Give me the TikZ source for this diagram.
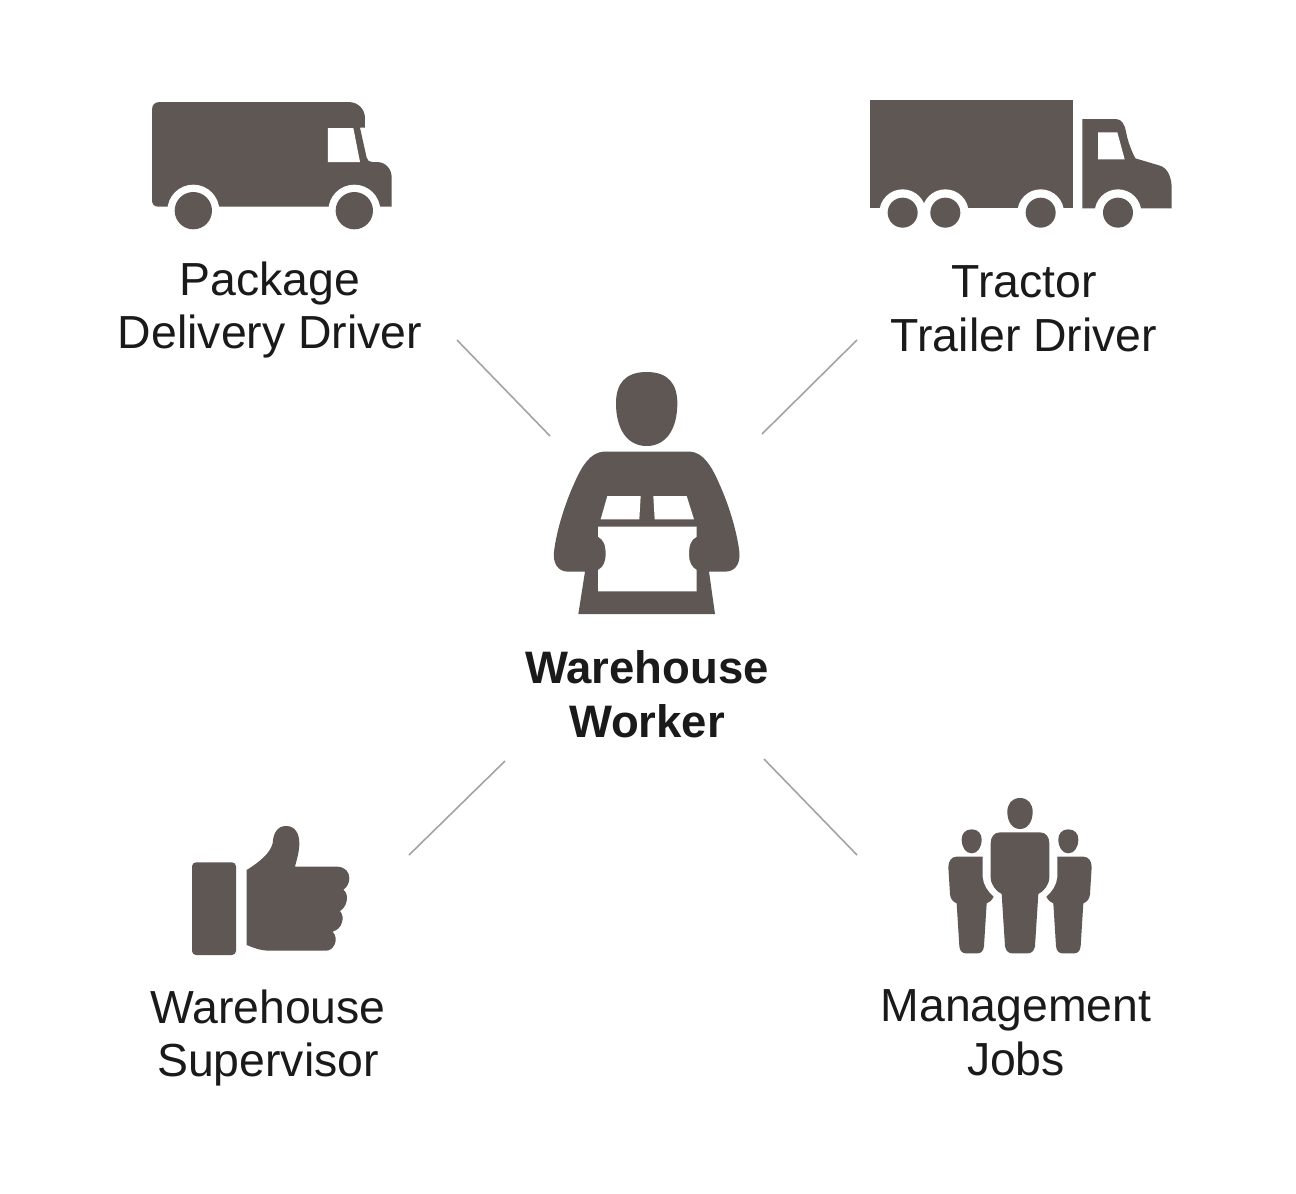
\documentclass[tikz,border=0pt]{standalone}
\usepackage{fontspec}
\setmainfont{Liberation Sans}
\definecolor{icon}{HTML}{5F5753}
\definecolor{ink}{HTML}{1A1A1A}
\definecolor{rule}{HTML}{A3A3A3}
\tikzset{
  px/.style={x=0.02cm,y=-0.02cm},
  glyph/.style={fill=icon,draw=none},
  hole/.style={fill=white,draw=none},
  label/.style={text=ink,align=center,inner sep=0pt,font=\fontsize{26.4}{30.6}\selectfont},
  strong/.style={label,font=\fontsize{25.9}{30.6}\selectfont\bfseries},
  spoke/.style={draw=rule,line width=0.9pt},
}
\begin{document}
\begin{tikzpicture}[px]
\useasboundingbox (0,0) rectangle (1296,1194);
\fill[white] (0,0) rectangle (1296,1194);

% Delivery van
\begin{scope}[shift={(140,90)},scale=1/3]
\path[glyph] (36,60) .. controls (36,44) and (44,36) .. (60,36) -- (625,36)
  .. controls (655,36) and (675,58) .. (675,85) -- (675,113) -- (660,113)
  -- (680,203) .. controls (682,212) and (688,216) .. (697,216) -- (710,216)
  .. controls (738,216) and (755,238) .. (755,262) -- (755,350) -- (55,350)
  .. controls (42,350) and (36,342) .. (36,330) -- cycle;
\path[hole] (564,114) -- (640,114) -- (660,216) -- (564,216) -- cycle;
\foreach \cx in {160,643} {
  \path[hole] (\cx-78,352) rectangle (\cx+78,420);
  \path[hole] (\cx,362) circle (78);
  \path[glyph] (\cx,362) circle (56);
}
\end{scope}

% Tractor trailer
\begin{scope}[shift={(860,90)},scale=1/3]
\path[glyph] (30,30) rectangle (638,355);
\path[glyph] (667,87) -- (768,87) .. controls (785,87) and (795,105) .. (798,125)
  .. controls (802,150) and (815,185) .. (826,205) -- (900,227)
  .. controls (925,235) and (935,265) .. (935,295) -- (935,355) -- (667,355) -- cycle;
\path[hole] (714,127) -- (772,127) -- (794,208) -- (714,208) -- cycle;
\foreach \cx in {128,256,542,774} {
  \path[hole] (\cx-70,356) rectangle (\cx+70,420);
  \path[hole] (\cx,368) circle (70);
}
\foreach \cx in {128,256,542,774} {
  \path[glyph] (\cx,368) circle (45);
}
\end{scope}

% Warehouse worker
\begin{scope}[shift={(540,360)},scale=1/3]
\path[glyph] (320,36) .. controls (385,36) and (412,72) .. (412,130)
  .. controls (412,205) and (380,258) .. (320,258)
  .. controls (260,258) and (228,205) .. (228,130)
  .. controls (228,72) and (255,36) .. (320,36) -- cycle;
\path[glyph] (190,275) -- (452,275) .. controls (490,278) and (515,320) .. (535,365)
  .. controls (565,430) and (590,510) .. (598,575)
  .. controls (602,612) and (585,635) .. (555,635) -- (507,635) -- (525,762) -- (115,762)
  -- (135,635) -- (85,635) .. controls (55,635) and (38,612) .. (42,575)
  .. controls (50,510) and (75,430) .. (105,365)
  .. controls (125,320) and (150,278) .. (190,275) -- cycle;
\path[hole] (202,408) -- (302,408) -- (298,478) -- (182,478) -- cycle;
\path[hole] (340,408) -- (440,408) -- (462,478) -- (344,478) -- cycle;
\path[hole] (174,500) -- (470,500) -- (470,530)
  .. controls (452,540) and (447,555) .. (447,585)
  .. controls (447,605) and (455,622) .. (470,630) -- (470,694) -- (174,694) -- (174,630)
  .. controls (190,622) and (197,605) .. (197,585)
  .. controls (197,555) and (192,540) .. (174,530) -- cycle;
\end{scope}

% Thumbs up
\begin{scope}[shift={(180,815)},scale=1/3]
\path[glyph,rounded corners=0.08cm] (36,142) rectangle (168,420);
\path[glyph] (200,165) .. controls (240,140) and (270,115) .. (278,85)
  .. controls (280,50) and (295,33) .. (318,33)
  .. controls (345,33) and (358,55) .. (358,85)
  .. controls (358,110) and (350,135) .. (345,155) -- (470,155)
  .. controls (495,155) and (508,170) .. (508,190)
  .. controls (508,205) and (500,218) .. (490,224)
  .. controls (500,232) and (503,245) .. (500,258)
  .. controls (497,272) and (490,282) .. (480,288)
  .. controls (488,298) and (490,310) .. (486,322)
  .. controls (482,337) and (472,345) .. (458,350)
  .. controls (468,362) and (470,375) .. (464,388)
  .. controls (458,400) and (450,407) .. (438,407) -- (270,407)
  .. controls (240,407) and (220,398) .. (200,390) -- cycle;
\end{scope}

% Management team
\begin{scope}[shift={(935,790)},scale=1/3]
\path[glyph] (255,24) .. controls (280,24) and (293,42) .. (293,66)
  .. controls (293,95) and (278,117) .. (255,117)
  .. controls (232,117) and (217,95) .. (217,66)
  .. controls (217,42) and (230,24) .. (255,24) -- cycle;
\path[glyph] (195,127) -- (315,127) .. controls (333,127) and (343,142) .. (343,160)
  -- (343,262) .. controls (343,285) and (325,305) .. (310,312)
  -- (300,468) .. controls (298,482) and (290,490) .. (278,490) -- (232,490)
  .. controls (220,490) and (212,482) .. (210,468)
  -- (200,312) .. controls (185,305) and (167,285) .. (167,262)
  -- (167,160) .. controls (167,142) and (177,127) .. (195,127) -- cycle;
% left figure
\path[glyph] (110,118) .. controls (130,118) and (140,132) .. (140,148)
  .. controls (140,172) and (128,190) .. (110,190)
  .. controls (92,190) and (80,172) .. (80,148)
  .. controls (80,132) and (90,118) .. (110,118) -- cycle;
\path[glyph] (65,200) -- (143,200) -- (143,262)
  .. controls (145,285) and (158,305) .. (176,320)
  .. controls (170,332) and (162,338) .. (155,340)
  -- (147,468) .. controls (146,482) and (138,490) .. (128,490) -- (92,490)
  .. controls (82,490) and (74,482) .. (73,468)
  -- (65,340) .. controls (52,335) and (46,325) .. (45,312)
  -- (40,232) .. controls (40,212) and (50,200) .. (65,200) -- cycle;
% right figure
\path[glyph] (400,118) .. controls (380,118) and (370,132) .. (370,148)
  .. controls (370,172) and (382,190) .. (400,190)
  .. controls (418,190) and (430,172) .. (430,148)
  .. controls (430,132) and (420,118) .. (400,118) -- cycle;
\path[glyph] (445,200) -- (367,200) -- (367,262)
  .. controls (365,285) and (352,305) .. (334,320)
  .. controls (340,332) and (348,338) .. (355,340)
  -- (363,468) .. controls (364,482) and (372,490) .. (382,490) -- (418,490)
  .. controls (428,490) and (436,482) .. (437,468)
  -- (445,340) .. controls (458,335) and (464,325) .. (465,312)
  -- (470,232) .. controls (470,212) and (460,200) .. (445,200) -- cycle;
\end{scope}

% Labels
\node[label]  (pkg)  at (270,310) {Package\\Delivery Driver};
\node[label]  (trac) at (1024,309) {Tractor\\Trailer Driver};
\node[strong] (work) at (647,694) {Warehouse\\Worker};
\node[label]  (sup)  at (268,1038) {Warehouse\\Supervisor};
\node[label]  (mgmt) at (1016,1033) {Management\\Jobs};

% Connectors
\coordinate (pkgEnd)  at (457,340);
\coordinate (pkgHub)  at (550,436);
\coordinate (tracEnd) at (857,340);
\coordinate (tracHub) at (762,434);
\coordinate (supEnd)  at (409,855);
\coordinate (supHub)  at (505,761);
\coordinate (mgmtEnd) at (857,855);
\coordinate (mgmtHub) at (764,759);
\draw[spoke] (pkgEnd) -- (pkgHub);
\draw[spoke] (tracEnd) -- (tracHub);
\draw[spoke] (supEnd) -- (supHub);
\draw[spoke] (mgmtEnd) -- (mgmtHub);
\end{tikzpicture}
\end{document}
